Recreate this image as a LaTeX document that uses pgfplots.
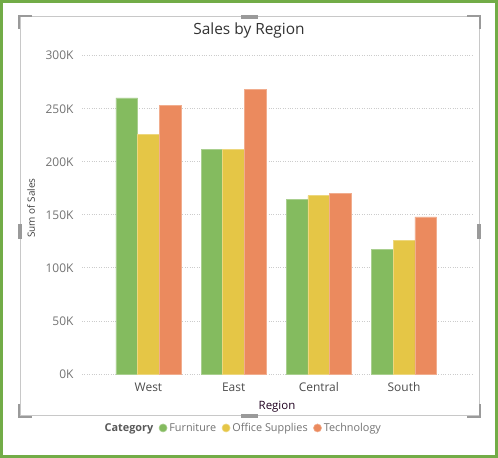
\documentclass[border=0pt]{standalone}
\usepackage{pgfplots}
\pgfplotsset{compat=1.18}
\usepackage{fontspec}
\setmainfont{Open Sans}
\definecolor{cgreen}{HTML}{84BB5F}
\definecolor{cyellow}{HTML}{E5C646}
\definecolor{corange}{HTML}{EB8A5E}
\definecolor{border}{HTML}{72AC47}
\definecolor{frame}{HTML}{C8C8C8}
\definecolor{handle}{HTML}{9A9A9A}
\begin{document}
\begin{tikzpicture}[x=1bp,y=1bp]
% page
\fill[white] (0,0) rectangle (498,458);
\draw[border,line width=3bp] (1.5,1.5) rectangle (496.5,456.5);
% frame
\draw[frame,line width=1bp] (20,{458-17}) rectangle (479,{458-416});
% corner handles
\begin{scope}[handle,line width=2.2bp]
\draw (19,{458-29}) -- (19,{458-16}) -- (32,{458-16});
\draw (467,{458-16}) -- (480,{458-16}) -- (480,{458-29});
\draw (19,{458-404}) -- (19,{458-417}) -- (32,{458-417});
\draw (467,{458-417}) -- (480,{458-417}) -- (480,{458-404});
\end{scope}
\fill[handle] (241,{458-19}) rectangle (258,{458-15});
\fill[handle] (241,{458-418}) rectangle (258,{458-414});
\fill[handle] (18,{458-239}) rectangle (22,{458-224});
\fill[handle] (477,{458-239}) rectangle (481,{458-224});
% title
\node[text=black!80,font=\fontsize{15.5}{17}\selectfont] at (249,{458-30}) {Sales by Region};
\begin{axis}[
  at={(82bp,84bp)}, anchor=south west,
  scale only axis, width=391bp, height=318.3bp,
  ymin=0, ymax=300000,
  xmin=-0.78, xmax=3.81,
  axis line style={draw=none},
  ybar=0pt, bar width=0.255,
  xtick={0,1,2,3}, xticklabels={West,East,Central,South},
  ytick={0,50000,100000,150000,200000,250000,300000},
  yticklabels={0K,50K,100K,150K,200K,250K,300K},
  ymajorgrids, major grid style={black!20, dotted, line width=0.8bp},
  major tick length=0pt, tick style={draw=none},
  scaled y ticks=false,
  xticklabel style={text=black!70, font=\fontsize{12}{13}\selectfont, yshift=-5bp},
  yticklabel style={text=black!55, font=\fontsize{12}{13}\selectfont, xshift=-5bp},
  /pgf/number format/assume math mode=true,
  clip=false,
  legend style={draw=none, fill=none, at={(0.4215,-0.141)}, anchor=north, legend columns=-1,
    font=\fontsize{10.9}{12}\selectfont, text=black!55,
    /tikz/every even column/.append style={column sep=3.5bp}},
  legend image code/.code={\fill[#1] (3bp,0) circle (4bp);},
  legend cell align=left,
]
\addlegendimage{empty legend}
\addlegendentry{\hspace{-8bp}\textcolor{black!65}{\bfseries Category}}
\addplot[fill=cgreen, draw=cgreen!70!white, line width=0.6bp] coordinates {(0,260300) (1,212000) (2,164400) (3,117300)};
\addlegendentry{Furniture}
\addplot[fill=cyellow, draw=cyellow!70!white, line width=0.6bp] coordinates {(0,226100) (1,211400) (2,168100) (3,125800)};
\addlegendentry{Office Supplies}
\addplot[fill=corange, draw=corange!70!white, line width=0.6bp] coordinates {(0,252800) (1,267900) (2,170300) (3,148000)};
\addlegendentry{Technology}
\end{axis}
\node[text=black!75, rotate=90, font=\fontsize{10}{11}\selectfont] at (31,{458-208}) {Sum of Sales};
\node[text=black!75!violet, font=\fontsize{11.5}{13}\selectfont] at (277,{458-407}) {Region};
\end{tikzpicture}
\end{document}
